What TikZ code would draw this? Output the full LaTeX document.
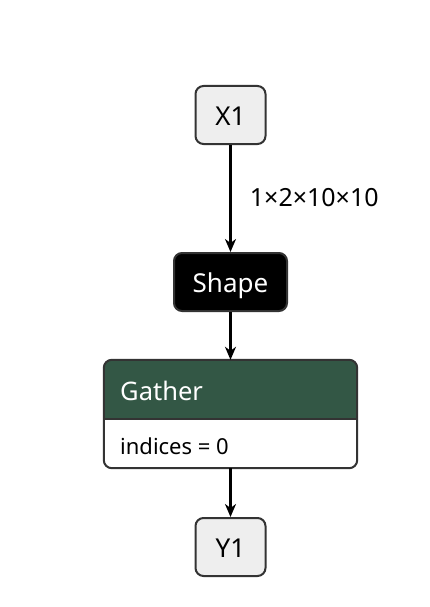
\documentclass[tikz,border=0pt]{standalone}
\usepackage{fontspec}
\setmainfont{Noto Sans}
\usetikzlibrary{arrows.meta}
\definecolor{edgegray}{RGB}{51,51,51}
\definecolor{iogray}{RGB}{238,238,238}
\definecolor{gathergreen}{RGB}{51,87,69}

\tikzset{
  iobox/.style={draw=edgegray, fill=iogray, line width=2pt, rounded corners=8pt,
                minimum width=70pt, minimum height=58pt, inner sep=0pt,
                text height=21pt, text depth=0pt,
                font=\fontsize{26}{30}\selectfont},
  opbox/.style={draw=edgegray, fill=black, text=white, line width=2pt, rounded corners=8pt,
                minimum width=113pt, minimum height=58pt, inner sep=0pt,
                text height=21pt, text depth=0pt,
                font=\fontsize{26}{30}\selectfont},
  flow/.style={line width=2.2pt, -{Stealth[length=13pt, width=11pt, inset=4pt]}}
}

\begin{document}
\begin{tikzpicture}[x=1pt, y=-1pt]
            % Frame to ensure alignment:
            \useasboundingbox (0,0) rectangle (430,607);
            % Input
            \node[iobox] (x1) at (230.5,115) {X1};
            % Shape op
            \node[opbox] (shape) at (230.5,282) {Shape};
            % Gather op, header and attribute
            \node[fill=white, rounded corners=8pt,
                  minimum width=253pt, minimum height=108pt, inner sep=0pt] (gather) at (230.5,414) {};
            \begin{scope}
              \clip[rounded corners=8pt] (gather.north west) rectangle (gather.south east);
              \fill[gathergreen] (gather.north west) rectangle (357,419);
            \end{scope}
            \draw[edgegray, line width=2pt] (104,419) -- (357,419);
            \draw[edgegray, line width=2pt, rounded corners=8pt] (gather.north west) rectangle (gather.south east);
            \node[anchor=west, text=white, inner sep=0pt, font=\fontsize{25.5}{30}\selectfont] (gathername) at (120,391) {Gather};
            \node[anchor=west, inner sep=0pt, font=\fontsize{22}{26}\selectfont] (gatherattr) at (120,446) {indices = 0};
            % Output
            \node[iobox] (y1) at (230.5,547) {Y1};
            % Connectors
            \draw[flow] (x1) -- (shape)
                 node[midway, anchor=west, xshift=15pt, yshift=1pt, font=\fontsize{25}{29}\selectfont] {1×2×10×10};
            \draw[flow] (shape) -- (gather);
            \draw[flow] (gather) -- (y1);
\end{tikzpicture}
\end{document}
